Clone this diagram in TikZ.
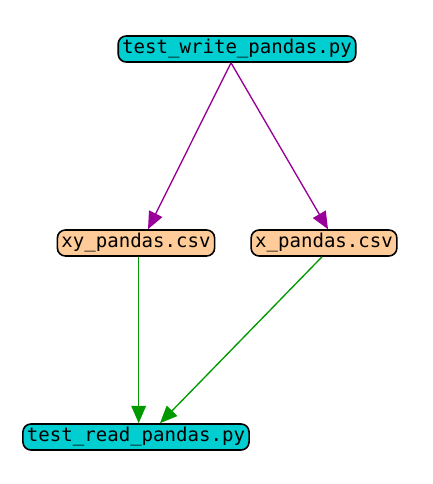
\documentclass[tikz,border=0pt]{standalone}
\usepackage{fontspec}
\setmonofont{DejaVu Sans Mono}
\usepackage{tikz}
\usetikzlibrary{positioning,arrows.meta}
\definecolor{pyfill}{HTML}{00CED1}
\definecolor{csvfill}{HTML}{FFCC99}
\definecolor{writeedge}{HTML}{990099}
\definecolor{readedge}{HTML}{009900}

\begin{document}
\begin{tikzpicture}[
  x=0.75pt, y=-0.75pt,
  box/.style={draw=black, line width=1.2pt, rounded corners=6pt, minimum height=19.5pt,
    inner xsep=3pt, inner ysep=0pt, font=\ttfamily\fontsize{14.3}{15}\selectfont},
  script/.style={box, fill=pyfill},
  data/.style={box, fill=csvfill},
  writes/.style={-{Triangle[length=13pt, width=11pt]}, draw=writeedge, fill=writeedge, line width=1pt},
  reads/.style={-{Triangle[length=13pt, width=11pt]}, draw=readedge, fill=readedge, line width=1pt}
]
\useasboundingbox (0,0) rectangle (432,484);
\node[script] (write) at (237,49) {test\_write\_pandas.py};
\node[data] (xy) at (136,243) {xy\_pandas.csv};
\node[data] (x) at (324,243) {x\_pandas.csv};
\node[script] (read) at (136,437) {test\_read\_pandas.py};
\draw[writes] ([xshift=-4.5pt]write.south) -- ([xshift=9pt]xy.north);
\draw[writes] ([xshift=-4.5pt]write.south) -- ([xshift=3pt]x.north);
\draw[reads] ([xshift=2pt]xy.south) -- ([xshift=2pt]read.north);
\draw[reads] ([xshift=-1.5pt]x.south) -- ([xshift=18pt]read.north);
\end{tikzpicture}
\end{document}
